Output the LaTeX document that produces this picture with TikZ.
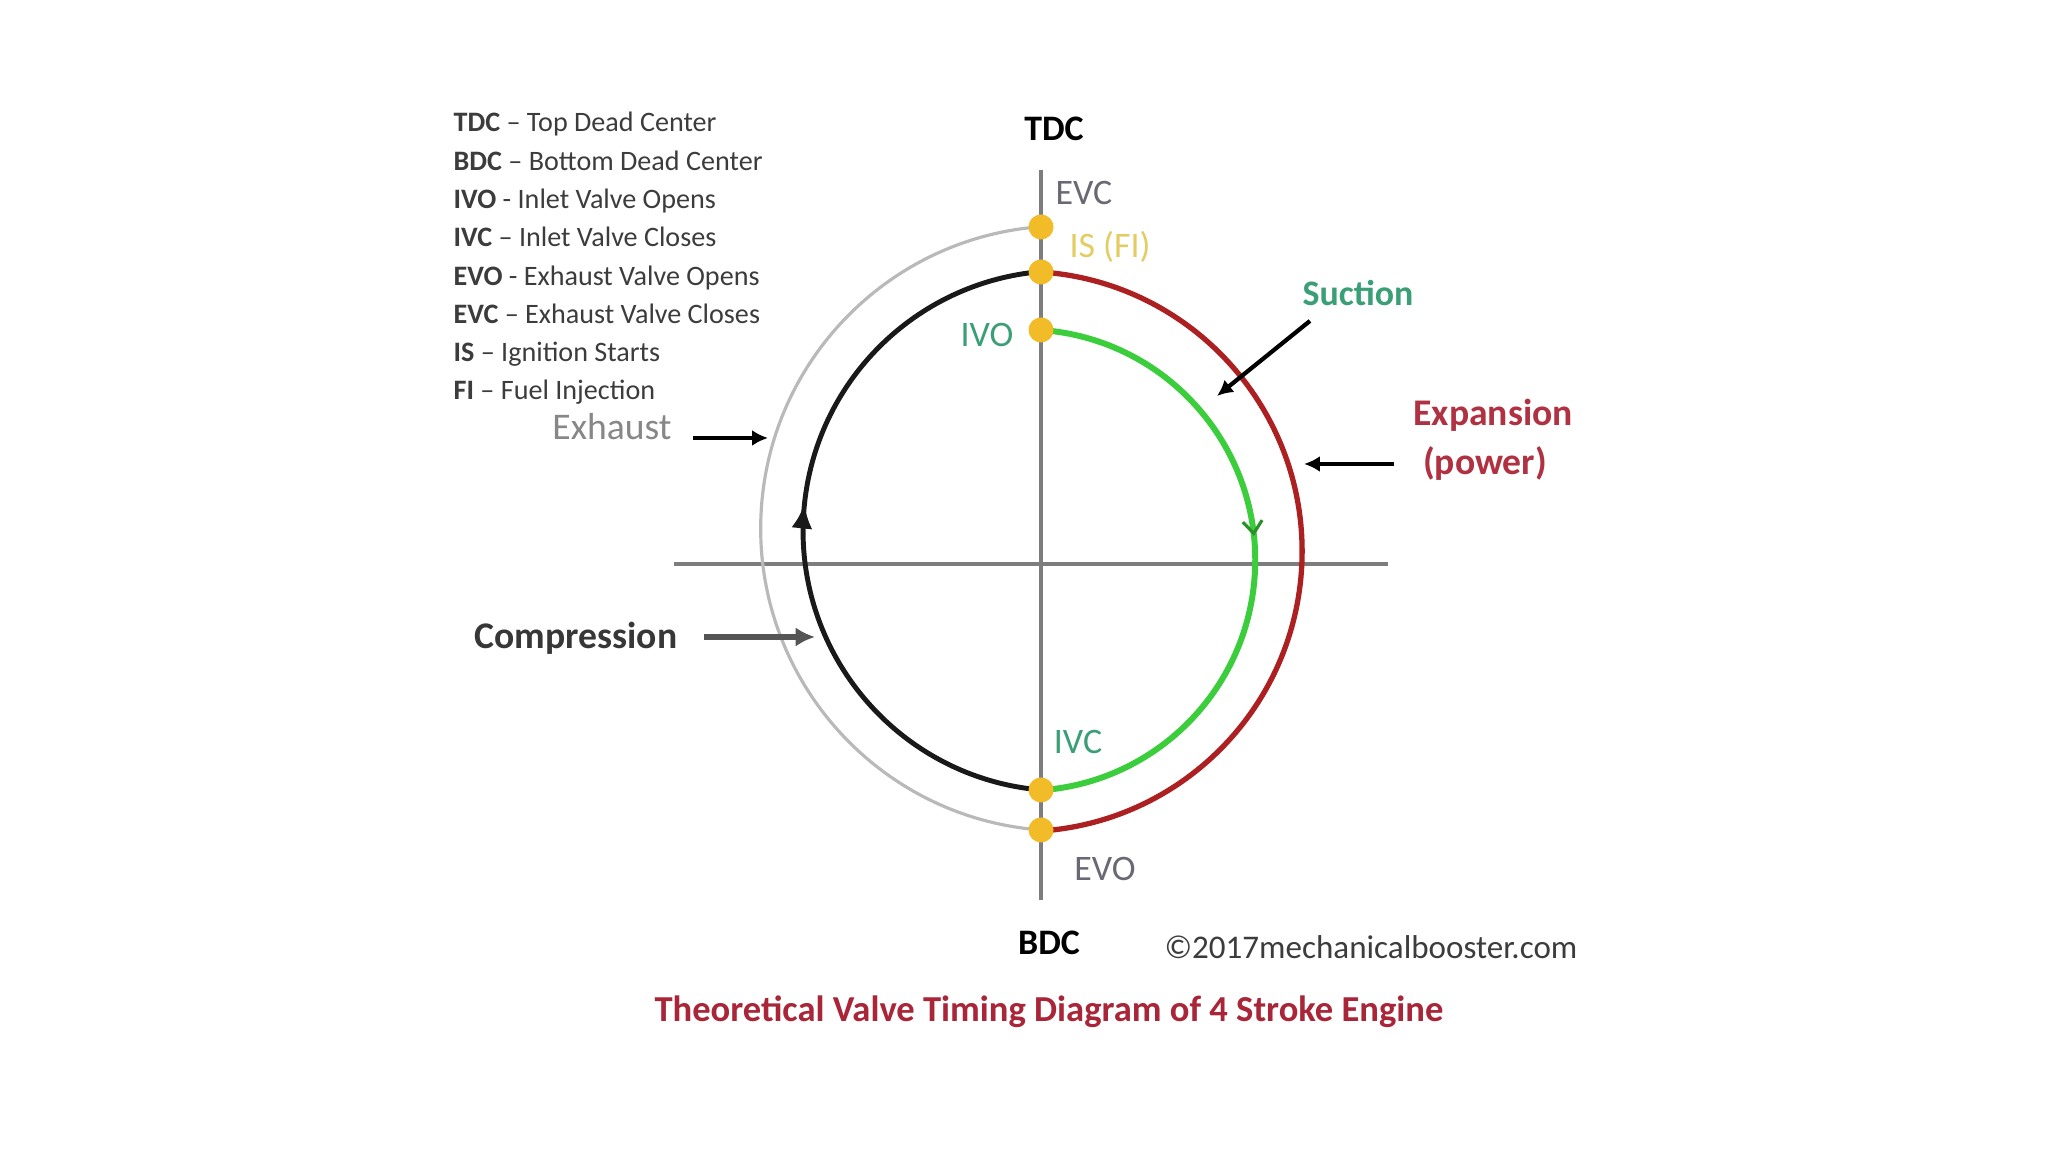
\documentclass[tikz,border=0pt]{standalone}
\usepackage{fontspec}
\setmainfont{Carlito}
\usetikzlibrary{arrows.meta,decorations.markings,calc}
\definecolor{dotc}{RGB}{242,188,40}
\definecolor{greenarc}{RGB}{60,205,60}
\definecolor{redarc}{RGB}{172,32,34}
\definecolor{grayarc}{RGB}{185,185,185}
\definecolor{axisc}{RGB}{125,125,125}
\definecolor{tealc}{RGB}{58,158,118}
\definecolor{expc}{RGB}{176,50,66}
\definecolor{yelc}{RGB}{228,204,100}
\definecolor{evtc}{RGB}{105,105,115}
\definecolor{exhc}{RGB}{135,135,135}
\definecolor{compc}{RGB}{55,55,55}
\definecolor{titlec}{RGB}{168,38,56}
\definecolor{legc}{RGB}{60,60,60}
\begin{document}
\begin{tikzpicture}[x=0.01cm,y=0.01cm,
  axisline/.style={draw=axisc,line width=0.9pt},
  dotnode/.style={circle,fill=dotc,inner sep=0pt,minimum size=0.25cm},
  legend/.style={anchor=base west,inner sep=0pt,text=legc,font=\fontsize{8}{9.6}\selectfont},
  lbl/.style={anchor=base,inner sep=0pt,font=\fontsize{10.2}{12}\selectfont},
  big/.style={anchor=base,inner sep=0pt,font=\fontsize{10.7}{12.8}\selectfont},
  arr/.style={line width=1.2pt,-{Latex[length=4.5pt,width=4.5pt]}},
  ]
\useasboundingbox (0,0) rectangle (2048,1152);
\fill[white] (0,0) rectangle (2048,1152);

% axes
\coordinate (vtop) at (1041,982);
\coordinate (vbot) at (1041,252);
\coordinate (hl) at (674,588);
\coordinate (hr) at (1388,588);
\draw[axisline] (vtop) -- (vbot);
\draw[axisline] (hl) -- (hr);

% event points
\coordinate (pEVC) at (1041,925);
\coordinate (pTOP) at (1041,880);
\coordinate (pIVO) at (1041,822);
\coordinate (pIVC) at (1041,362);
\coordinate (pEVO) at (1041,322);

% exhaust (gray), from EVO up to EVC
\draw[grayarc,line width=0.9pt] (pEVO) arc[start angle=265.8,end angle=94.2,radius=3.023cm];
% expansion (red), from TDC down to EVO
\draw[redarc,line width=1.5pt] (pTOP) arc[start angle=86.1,end angle=-86.1,radius=2.80cm];
% compression (black), from IVC up to TDC
\draw[black!90,line width=1.4pt,
  postaction={decorate},
  decoration={markings,mark=at position 0.535 with {\arrow{Latex[length=7pt,width=6pt]}}}]
  (pIVC) arc[start angle=265.1,end angle=94.9,radius=2.60cm];
% suction (green), from IVO down to IVC
\draw[greenarc,line width=1.7pt,
  postaction={decorate},
  decoration={markings,mark=at position 0.465 with {\arrow[greenarc!70!black,line width=0.9pt]{Straight Barb[length=3.5pt,width=5.5pt]}}}]
  (pIVO) arc[start angle=85.9,end angle=-85.9,radius=2.306cm];

% dots
\node[dotnode] (dEVC) at (pEVC) {};
\node[dotnode] (dTOP) at (pTOP) {};
\node[dotnode] (dIVO) at (pIVO) {};
\node[dotnode] (dIVC) at (pIVC) {};
\node[dotnode] (dEVO) at (pEVO) {};

% point labels
\node[lbl,font=\bfseries\fontsize{10.2}{12}\selectfont] (tdc) at (1054,1011) {TDC};
\node[lbl,text=evtc] (evc) at (1084,947) {EVC};
\node[lbl,text=yelc] (isfi) at (1110,894) {IS (FI)};
\node[lbl,text=tealc] (ivo) at (987,805) {IVO};
\node[lbl,text=tealc] (ivc) at (1078,398) {IVC};
\node[lbl,text=evtc] (evo) at (1105,271) {EVO};
\node[lbl,font=\bfseries\fontsize{10.2}{12}\selectfont] (bdc) at (1049,197) {BDC};

% stroke labels
\node[big,text=tealc,font=\bfseries\fontsize{10.2}{12}\selectfont] (suc) at (1358,846) {Suction};
\node[big,text=expc,font=\bfseries\fontsize{10.7}{12.8}\selectfont] (exp) at (1493,726) {Expansion};
\node[big,text=expc,font=\bfseries\fontsize{10.7}{12.8}\selectfont] (pow) at (1485,677) {(power)};
\node[big,text=exhc] (exh) at (612,712) {Exhaust};
\node[big,text=compc,font=\bfseries\fontsize{10.7}{12.8}\selectfont] (comp) at (576,503) {Compression};

% arrow tips
\coordinate (sucTip) at (1217,756);
\coordinate (expTip) at (1304,688);
\coordinate (exhTip) at (768,714);
\coordinate (compTip) at (815,515);

\draw[arr] ($(suc.south west)+(8,-14)$) -- (sucTip);
\draw[arr] ($(pow.base west)+(-28,11)$) -- (expTip);
\draw[arr] ($(exh.base east)+(21,2)$) -- (exhTip);
\draw[draw=compc!85,line width=1.6pt,-{Latex[length=5.5pt,width=5.5pt]}] ($(comp.base east)+(26,12)$) -- (compTip);

% legend
\node[legend] (l1) at (453,1020) {\textbf{TDC} – Top Dead Center};
\node[legend] (l2) at (453,981) {\textbf{BDC} – Bottom Dead Center};
\node[legend] (l3) at (453,943) {\textbf{IVO} - Inlet Valve Opens};
\node[legend] (l4) at (453,905) {\textbf{IVC} – Inlet Valve Closes};
\node[legend] (l5) at (453,866) {\textbf{EVO} - Exhaust Valve Opens};
\node[legend] (l6) at (453,828) {\textbf{EVC} – Exhaust Valve Closes};
\node[legend] (l7) at (453,790) {\textbf{IS} – Ignition Starts};
\node[legend] (l8) at (453,752) {\textbf{FI} – Fuel Injection};

% footer
\node[anchor=base,inner sep=0pt,text=legc,font=\fontsize{9.4}{11}\selectfont] (copy) at (1371,193) {©2017mechanicalbooster.com};
\node[anchor=base,inner sep=0pt,text=titlec,font=\bfseries\fontsize{10.4}{12.5}\selectfont] (title) at (1049,130) {Theoretical Valve Timing Diagram of 4 Stroke Engine};
\end{tikzpicture}
\end{document}
